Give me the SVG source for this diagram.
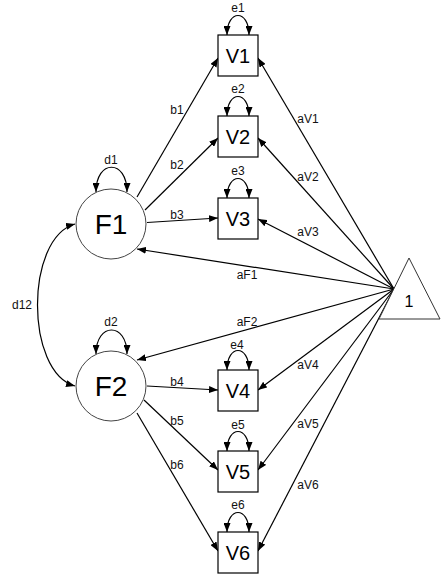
<svg xmlns="http://www.w3.org/2000/svg" width="445" height="576" viewBox="0 0 445 576">
<style>
.lbl{font-family:"Liberation Sans",Arial,sans-serif;font-size:12px;fill:#111;text-anchor:middle}
.vt{font-family:"Liberation Sans",Arial,sans-serif;font-size:20px;fill:#000;text-anchor:middle}
.ft{font-family:"Liberation Sans",Arial,sans-serif;font-size:28px;fill:#000;text-anchor:middle}
.box{fill:#fff;stroke:#000;stroke-width:1.2}
.circ{fill:#fff;stroke:#444;stroke-width:1}
.con{fill:none;stroke:#000;stroke-width:1.2;marker-end:url(#ah)}
.loop{fill:none;stroke:#000;stroke-width:1.2;marker-start:url(#ah);marker-end:url(#ah)}
</style>
<defs>
<marker id="ah" markerUnits="userSpaceOnUse" markerWidth="9" markerHeight="7" refX="9" refY="3.5" orient="auto-start-reverse">
<path d="M0,0 L9,3.5 L0,7 z" fill="#000"/>
</marker>
</defs>
<rect width="445" height="576" fill="#fff"/>
<g id="connectors">
<path class="con" d="M137 197 L218 58"/>
<path class="con" d="M145 210 L218 138"/>
<path class="con" d="M147 222.5 L218 218"/>
<path class="con" d="M147 386 L218 390"/>
<path class="con" d="M144 400 L218 470"/>
<path class="con" d="M137 413 L218 551"/>
<path class="con" d="M394 289 L258 58"/>
<path class="con" d="M394 289 L258 138"/>
<path class="con" d="M394 289 L258 219"/>
<path class="con" d="M394 289 L137 249"/>
<path class="con" d="M394 289 L137 360"/>
<path class="con" d="M394 289 L258 390"/>
<path class="con" d="M394 289 L258 470"/>
<path class="con" d="M394 289 L258 551"/>
<path class="loop" d="M75 224 C25 238, 25 372, 75 386"/>
<path class="loop" d="M96 192 C96 159, 127 159, 127 192"/>
<path class="loop" d="M96 354 C96 322, 127 322, 127 354"/>
<path class="loop" d="M227 35 C227 9, 249 9, 249 35"/>
<path class="loop" d="M227 116 C227 90, 249 90, 249 116"/>
<path class="loop" d="M227 198 C227 172, 249 172, 249 198"/>
<path class="loop" d="M227 370 C227 344, 249 344, 249 370"/>
<path class="loop" d="M227 451 C227 425, 249 425, 249 451"/>
<path class="loop" d="M227 532 C227 506, 249 506, 249 532"/>
</g>
<g id="F1"><circle class="circ" cx="111" cy="224" r="35"/><text class="ft" x="111" y="234">F1</text></g>
<g id="F2"><circle class="circ" cx="111" cy="386" r="35"/><text class="ft" x="111" y="396">F2</text></g>
<g id="V1"><rect class="box" x="218" y="35" width="40" height="41"/><text class="vt" x="238" y="63">V1</text></g>
<g id="V2"><rect class="box" x="218" y="116" width="40" height="41"/><text class="vt" x="238" y="144">V2</text></g>
<g id="V3"><rect class="box" x="218" y="198" width="40" height="41"/><text class="vt" x="238" y="226">V3</text></g>
<g id="V4"><rect class="box" x="218" y="370" width="40" height="41"/><text class="vt" x="238" y="398">V4</text></g>
<g id="V5"><rect class="box" x="218" y="451" width="40" height="41"/><text class="vt" x="238" y="479">V5</text></g>
<g id="V6"><rect class="box" x="218" y="532" width="40" height="41"/><text class="vt" x="238" y="560">V6</text></g>
<g id="one"><polygon points="409,258 379,319 440,319" fill="#fff" stroke="#333" stroke-width="1"/><text x="409" y="307" style="font-family:'Liberation Sans',Arial,sans-serif;font-size:16px;fill:#000;text-anchor:middle">1</text></g>
<g id="labels">
<text class="lbl" x="238" y="12">e1</text>
<text class="lbl" x="238" y="93">e2</text>
<text class="lbl" x="238" y="175">e3</text>
<text class="lbl" x="237" y="349">e4</text>
<text class="lbl" x="238" y="429">e5</text>
<text class="lbl" x="238" y="509">e6</text>
<text class="lbl" x="111" y="164">d1</text>
<text class="lbl" x="111" y="326">d2</text>
<text class="lbl" x="22" y="309">d12</text>
<text class="lbl" x="177" y="114">b1</text>
<text class="lbl" x="177" y="169">b2</text>
<text class="lbl" x="177" y="219">b3</text>
<text class="lbl" x="177" y="386">b4</text>
<text class="lbl" x="177" y="425">b5</text>
<text class="lbl" x="177" y="469">b6</text>
<text class="lbl" x="308" y="123">aV1</text>
<text class="lbl" x="308" y="181">aV2</text>
<text class="lbl" x="308" y="236">aV3</text>
<text class="lbl" x="247" y="279">aF1</text>
<text class="lbl" x="247" y="326">aF2</text>
<text class="lbl" x="308" y="369">aV4</text>
<text class="lbl" x="308" y="428">aV5</text>
<text class="lbl" x="308" y="489">aV6</text>
</g>
</svg>
